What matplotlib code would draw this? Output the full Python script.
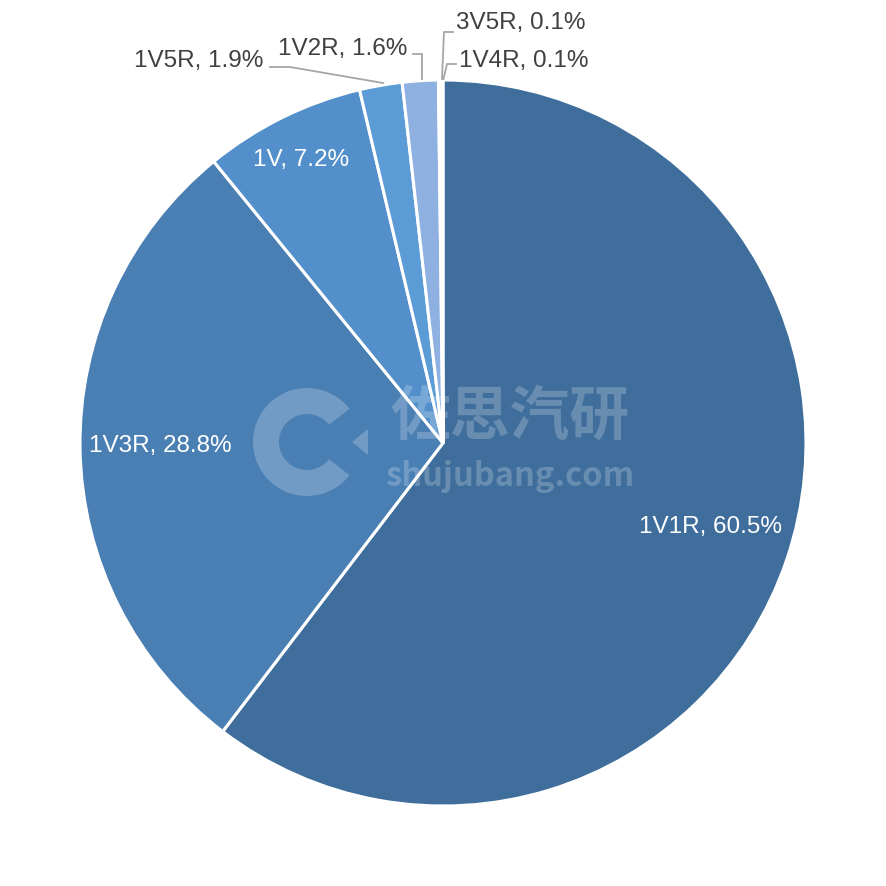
import matplotlib
matplotlib.use("Agg")
import matplotlib.pyplot as plt
from matplotlib.patches import Wedge, Polygon
import numpy as np

plt.rcParams['font.family'] = ['Liberation Sans', 'DejaVu Sans']

categories = ["1V1R", "1V3R", "1V", "1V5R", "1V2R", "3V5R", "1V4R"]
values = [60.5, 28.8, 7.2, 1.9, 1.6, 0.1, 0.1]
colors = ["#3F6E9C", "#4A7FB4", "#5390CB", "#5B9BD6", "#8EB1E1", "#A9C4EA", "#B8CFEE"]

W = H = 886
fig = plt.figure(figsize=(W / 100, H / 100), dpi=100)
ax = fig.add_axes([0, 0, 1, 1])

def py(y):
    return H - y

cx, cy, R = 443, py(443), 363
ax.pie(values, colors=colors, startangle=90, counterclock=False,
       center=(cx, cy), radius=R, frame=True,
       wedgeprops=dict(edgecolor='white', linewidth=2.2))
ax.set_xlim(0, W)
ax.set_ylim(0, H)
ax.set_aspect('equal')
ax.axis('off')

# watermark
A = 0.22
ax.add_patch(Wedge((307, py(442)), 54, 38, 322, width=26, facecolor='white', alpha=A, edgecolor='none'))
ax.add_patch(Polygon([(352, py(442)), (368, py(429)), (368, py(455))], closed=True,
                     facecolor='white', alpha=A, edgecolor='none'))
ax.text(510, py(418), "佐思汽研", fontsize=43, fontweight='bold',
        family=['Noto Sans CJK SC'], ha='center', va='center', color='white', alpha=A)
ax.text(510, py(476), "shujubang.com", fontsize=23.5, fontweight='bold',
        family=['Noto Sans CJK SC', 'DejaVu Sans'], ha='center', va='center', color='white', alpha=A)

fs = 17.5
dy = 3
labels = [f"{c}, {v}%" for c, v in zip(categories, values)]
inner_pos = {0: (711, 524), 1: (160, 443), 2: (301, 157)}
for i, (x, y) in inner_pos.items():
    ax.text(x, py(y + dy), labels[i], color='white', fontsize=fs, ha='center', va='center')

gray = '#404040'
lc = '#A6A6A6'
# outside labels
ax.text(263, py(58 + dy), labels[3], color=gray, fontsize=fs, ha='right', va='center')
ax.plot([270, 290, 383], [py(67), py(67), py(83)], color=lc, lw=1.3)
ax.text(407, py(46 + dy), labels[4], color=gray, fontsize=fs, ha='right', va='center')
ax.plot([413, 422, 422], [py(54), py(54), py(79)], color=lc, lw=1.3)
ax.text(456, py(20 + dy), labels[5], color=gray, fontsize=fs, ha='left', va='center')
ax.plot([453, 444, 442], [py(32), py(32), py(79)], color=lc, lw=1.3)
ax.text(459, py(58 + dy), labels[6], color=gray, fontsize=fs, ha='left', va='center')
ax.plot([456, 447, 443.5], [py(64), py(64), py(79)], color=lc, lw=1.3)

fig.savefig("out.png", dpi=100, facecolor='white')
